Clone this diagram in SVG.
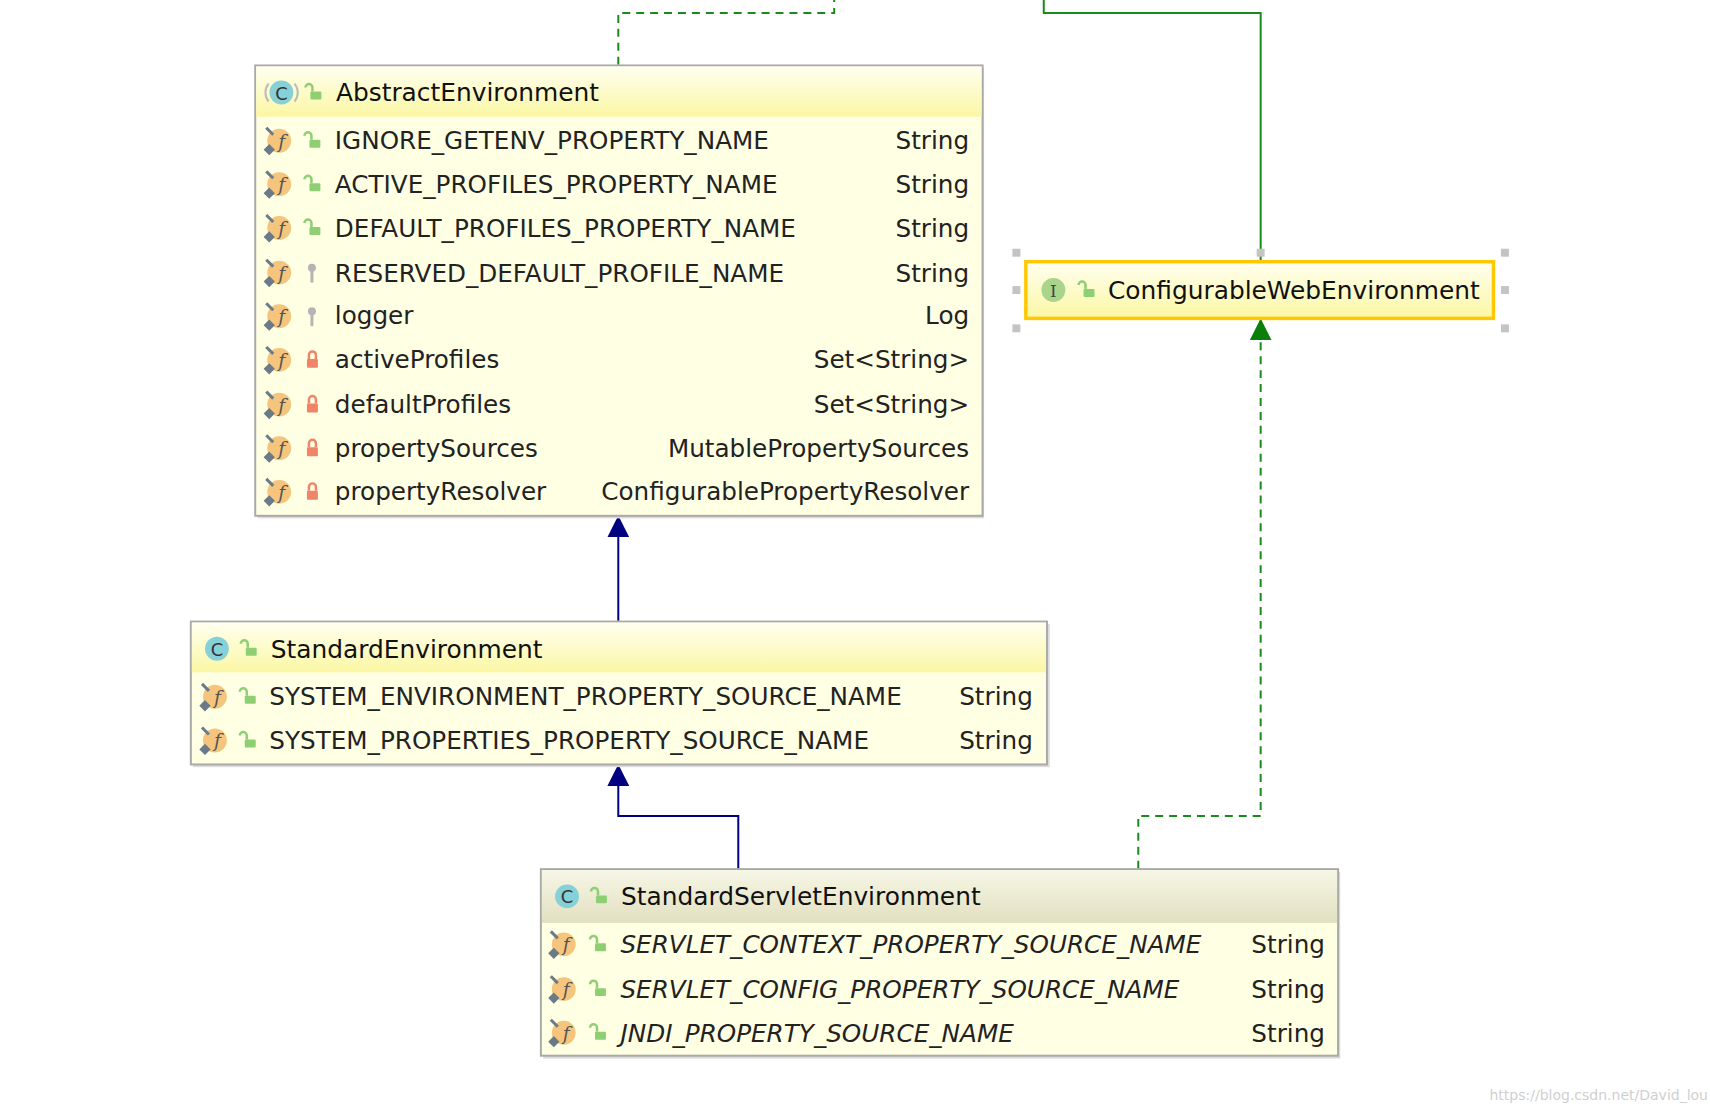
<svg xmlns="http://www.w3.org/2000/svg" width="1710" height="1108" viewBox="0 0 1710 1108">
<style>
text{font-family:"DejaVu Sans","Liberation Sans",sans-serif;font-size:24.8px;fill:#222}
.t{font-size:25px;fill:#111}
.ty{text-anchor:end}
.it{font-style:italic}
.box{fill:#ffffe4;stroke:#a9a9a9;stroke-width:2}
.blue{fill:none;stroke:#000080;stroke-width:2}
.green{fill:none;stroke:#1a8a1a;stroke-width:2}
.dash{stroke-dasharray:8,6}
.h{fill:#c4c4c4}
.wm{font-size:14px;fill:#d0d0d0}
</style>
<defs>
<linearGradient id="hy" x1="0" y1="0" x2="0" y2="1"><stop offset="0" stop-color="#fffff0"/><stop offset="1" stop-color="#fbf7a4"/></linearGradient>
<linearGradient id="hg" x1="0" y1="0" x2="0" y2="1"><stop offset="0" stop-color="#f6f6e6"/><stop offset="1" stop-color="#e2e0c0"/></linearGradient>
<g id="f"><circle r="12" fill="#f5c57d"/><text x="-1" y="7" style="font-size:19px;fill:#555;font-family:'DejaVu Serif',serif;font-style:italic">f</text><path d="M-13,-13 L-6,-6" stroke="#6a7a88" stroke-width="3"/><rect x="-14" y="5" width="8" height="8" transform="rotate(45 -10 9)" fill="#6a7a88"/></g>
<g id="lg"><rect x="-5" y="-1" width="11" height="8" rx="1" fill="#8fcf74"/><path d="M-3,-1 V-5 a3.5,3.5 0 0 0 -7,0" fill="none" stroke="#8fcf74" stroke-width="2.5"/></g>
<g id="lr"><rect x="-5" y="-1" width="11" height="9" rx="1" fill="#ef8468"/><path d="M-3,-1 V-5 a3.5,3.5 0 0 1 7,0 V-1" fill="none" stroke="#ef8468" stroke-width="2.5"/></g>
<g id="lk"><circle cx="0" cy="-5" r="4" fill="#b4b4b4"/><rect x="-1.5" y="-2" width="3" height="12" fill="#b4b4b4"/></g>
<marker id="ab" markerWidth="22" markerHeight="22" refX="20" refY="11" orient="auto" markerUnits="userSpaceOnUse"><path d="M0,0 L22,11 L0,22 z" fill="#000080"/></marker>
<marker id="ag" markerWidth="22" markerHeight="22" refX="20" refY="11" orient="auto" markerUnits="userSpaceOnUse"><path d="M0,0 L22,11 L0,22 z" fill="#0a7f0a"/></marker>
</defs>
<g transform="scale(0.995)">
<g id="connectors">
<path class="green dash" d="M621.4,65 V13 H838.4 V0"/>
<path class="green" d="M1267,262 V13 H1049 V0"/>
<path class="blue" d="M621.4,624 V520" marker-end="url(#ab)"/>
<path class="blue" d="M742,873 V820 H621.4 V770" marker-end="url(#ab)"/>
<path class="green dash" d="M1144,873 V820 H1267 V322" marker-end="url(#ag)"/>
</g>

<g id="AbstractEnvironment">
<rect x="259" y="68" width="730" height="453" fill="#dcdcdc"/>
<rect class="box" x="256.5" y="65.8" width="731" height="452.6"/>
<rect x="257.5" y="66.8" width="729" height="50.5" fill="url(#hy)"/>
<circle cx="282.8" cy="93" r="12" fill="#86d0d8"/><path d="M270,84 a14,14 0 0 0 0,18 M296,84 a14,14 0 0 1 0,18" stroke="#bbb" stroke-width="2" fill="none"/>
<text x="282.8" y="100" style="font-size:18px;text-anchor:middle;fill:#333">C</text>
<use href="#lg" x="317" y="93"/>
<text class="t" x="337.6" y="102">AbstractEnvironment</text>
<use href="#f" x="280.6" y="141.4"/><use href="#lg" x="316" y="141.4"/><text x="336.5" y="150">IGNORE_GETENV_PROPERTY_NAME</text><text class="ty" x="974" y="150">String</text>
<use href="#f" x="280.6" y="185.2"/><use href="#lg" x="316" y="185.2"/><text x="336.5" y="194">ACTIVE_PROFILES_PROPERTY_NAME</text><text class="ty" x="974" y="194">String</text>
<use href="#f" x="280.6" y="229.1"/><use href="#lg" x="316" y="229.1"/><text x="336.5" y="238">DEFAULT_PROFILES_PROPERTY_NAME</text><text class="ty" x="974" y="238">String</text>
<use href="#f" x="280.6" y="274"/><use href="#lk" x="313.5" y="274"/><text x="336.5" y="283">RESERVED_DEFAULT_PROFILE_NAME</text><text class="ty" x="974" y="283">String</text>
<use href="#f" x="280.6" y="317.8"/><use href="#lk" x="313.5" y="317.8"/><text x="336.5" y="326">logger</text><text class="ty" x="974" y="326">Log</text>
<use href="#f" x="280.6" y="361.7"/><use href="#lr" x="313.5" y="361.7"/><text x="336.5" y="370">activeProfiles</text><text class="ty" x="974" y="370">Set&lt;String&gt;</text>
<use href="#f" x="280.6" y="406.6"/><use href="#lr" x="313.5" y="406.6"/><text x="336.5" y="415">defaultProfiles</text><text class="ty" x="974" y="415">Set&lt;String&gt;</text>
<use href="#f" x="280.6" y="450.5"/><use href="#lr" x="313.5" y="450.5"/><text x="336.5" y="459">propertySources</text><text class="ty" x="974" y="459">MutablePropertySources</text>
<use href="#f" x="280.6" y="494.3"/><use href="#lr" x="313.5" y="494.3"/><text x="336.5" y="503">propertyResolver</text><text class="ty" x="974" y="503">ConfigurablePropertyResolver</text>
</g>

<g id="ConfigurableWebEnvironment">
<rect x="1031" y="263" width="470" height="57" fill="url(#hy)" stroke="#ffc800" stroke-width="3.5"/>
<circle cx="1058.7" cy="291.5" r="12" fill="#a8d48c"/><text x="1058.7" y="298" style="font-size:17px;text-anchor:middle;fill:#444;font-family:'DejaVu Serif',serif">I</text>
<use href="#lg" x="1094" y="291.5"/>
<text class="t" x="1113.5" y="300">ConfigurableWebEnvironment</text>
<rect class="h" x="1017.5" y="250" width="8" height="8"/><rect class="h" x="1263" y="250" width="8" height="8"/><rect class="h" x="1508.5" y="250" width="8" height="8"/>
<rect class="h" x="1017.5" y="287.5" width="8" height="8"/><rect class="h" x="1508.5" y="287.5" width="8" height="8"/>
<rect class="h" x="1017.5" y="326" width="8" height="8"/><rect class="h" x="1508.5" y="326" width="8" height="8"/>
</g>

<g id="StandardEnvironment">
<rect x="194" y="627" width="861" height="144" fill="#dcdcdc"/>
<rect class="box" x="191.8" y="624.7" width="860.4" height="143.6"/>
<rect x="192.8" y="625.7" width="858.4" height="50" fill="url(#hy)"/>
<circle cx="218" cy="652" r="12" fill="#86d0d8"/><text x="218" y="659" style="font-size:18px;text-anchor:middle;fill:#333">C</text>
<use href="#lg" x="252" y="652"/>
<text class="t" x="272" y="661">StandardEnvironment</text>
<use href="#f" x="216" y="700.3"/><use href="#lg" x="251" y="700.3"/><text x="270.7" y="709">SYSTEM_ENVIRONMENT_PROPERTY_SOURCE_NAME</text><text class="ty" x="1038" y="709">String</text>
<use href="#f" x="216" y="744.2"/><use href="#lg" x="251" y="744.2"/><text x="270.7" y="753">SYSTEM_PROPERTIES_PROPERTY_SOURCE_NAME</text><text class="ty" x="1038" y="753">String</text>
</g>

<g id="StandardServletEnvironment">
<rect x="546" y="876" width="801" height="188" fill="#dcdcdc"/>
<rect class="box" x="543.6" y="873.5" width="801.2" height="187.5"/>
<rect x="544.6" y="874.5" width="799.2" height="53" fill="url(#hg)"/>
<circle cx="569.9" cy="900.9" r="12" fill="#86d0d8"/><text x="569.9" y="908" style="font-size:18px;text-anchor:middle;fill:#333">C</text>
<use href="#lg" x="604" y="900.9"/>
<text class="t" x="624" y="910">StandardServletEnvironment</text>
<use href="#f" x="566.6" y="949.1"/><use href="#lg" x="603" y="949.1"/><text class="it" x="623.6" y="958">SERVLET_CONTEXT_PROPERTY_SOURCE_NAME</text><text class="ty" x="1331.6" y="958">String</text>
<use href="#f" x="566.6" y="994.1"/><use href="#lg" x="603" y="994.1"/><text class="it" x="623.6" y="1003">SERVLET_CONFIG_PROPERTY_SOURCE_NAME</text><text class="ty" x="1331.6" y="1003">String</text>
<use href="#f" x="566.6" y="1037.9"/><use href="#lg" x="603" y="1037.9"/><text class="it" x="623.6" y="1047">JNDI_PROPERTY_SOURCE_NAME</text><text class="ty" x="1331.6" y="1047">String</text>
</g>
</g>
<text class="wm" x="1708" y="1100" text-anchor="end">https://blog.csdn.net/David_lou</text>
</svg>
